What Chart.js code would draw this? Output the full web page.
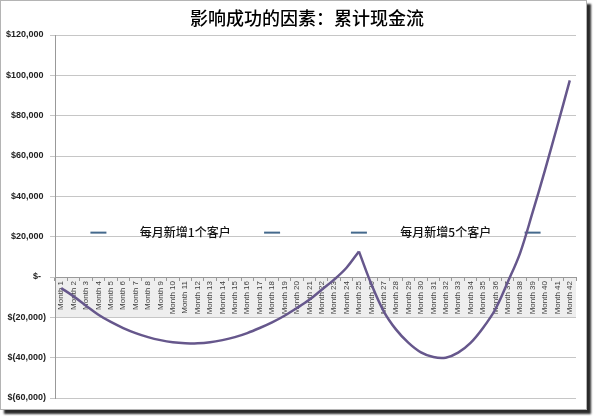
<!DOCTYPE html>
<html lang="zh-CN">
<head>
<meta charset="UTF-8">
<title>影响成功的因素：累计现金流</title>
<script src="https://cdn.jsdelivr.net/npm/chart.js"></script>
<style>
    body { margin: 0; background: #fff; }
    #frame {
        position: absolute; left: 0; top: 0;
        width: 585px; height: 408px;
        border: 1px solid #b4b4b4;
        box-shadow: 4px 4px 2px #2a2a2a;
        background: #fff;
    }
</style>
</head>
<body>
<div id="frame"><canvas id="cashChart"></canvas></div>
<script>
    // categories
    const months = [
        'Month 1', 'Month 2', 'Month 3', 'Month 4', 'Month 5', 'Month 6', 'Month 7',
        'Month 8', 'Month 9', 'Month 10', 'Month 11', 'Month 12', 'Month 13', 'Month 14',
        'Month 15', 'Month 16', 'Month 17', 'Month 18', 'Month 19', 'Month 20', 'Month 21',
        'Month 22', 'Month 23', 'Month 24', 'Month 25', 'Month 26', 'Month 27', 'Month 28',
        'Month 29', 'Month 30', 'Month 31', 'Month 32', 'Month 33', 'Month 34', 'Month 35',
        'Month 36', 'Month 37', 'Month 38', 'Month 39', 'Month 40', 'Month 41', 'Month 42'
    ];
    // cumulative cash flow
    const cumulativeCash = [
        -5500, -9600, -14200, -18700, -22300, -25300, -27800,
        -29800, -31300, -32300, -32800, -32900, -32400, -31300,
        -29800, -27800, -25300, -22500, -19200, -15400, -11300,
        -6300, -1300, 4600, 12700, -3500, -17000, -26100,
        -32700, -37400, -39700, -40000, -37500, -32700, -25300,
        -16000, -2500, 12000, 32000, 53000, 75000, 97500
    ];
    // month where the plan switches (sharp corner in the line)
    const switchMonth = 'Month 25';
    // y axis range
    const yMin = -60000;
    const yMax = 120000;
    const yStep = 20000;
    // the two annotations with their dash markers
    const noteLabels = ['每月新增1个客户', '每月新增5个客户'];
    const noteStart = ['Month 4', 'Month 25'];
    const noteEnd = ['Month 18', 'Month 39'];
    const noteLevel = 22000;

    const markerPoints = [];
    noteStart.forEach((m, i) => {
        markerPoints.push({ x: m, y: noteLevel });
        markerPoints.push({ x: noteEnd[i], y: noteLevel });
    });

    // two smoothed pieces meeting at the switch month
    const cut = months.indexOf(switchMonth);
    const phase1 = cumulativeCash.map((v, i) => i <= cut ? v : null);
    const phase2 = cumulativeCash.map((v, i) => i >= cut ? v : null);

    function money(v) {
        if (v === 0) return '$-  ';
        const s = Math.abs(v).toLocaleString('en-US');
        return v < 0 ? '$(' + s + ')' : '$' + s + ' ';
    }

    // light band behind the month labels (0 to -20,000)
    const labelBand = {
        id: 'labelBand',
        beforeDraw(chart) {
            const { ctx, chartArea, scales } = chart;
            const y0 = scales.y.getPixelForValue(0);
            const y1 = scales.y.getPixelForValue(-20000);
            ctx.save();
            ctx.fillStyle = '#eeeeee';
            ctx.fillRect(chartArea.left, y0, chartArea.right - chartArea.left, y1 - y0);
            ctx.restore();
        }
    };

    // title and annotation texts
    const texts = {
        id: 'texts',
        afterDraw(chart) {
            const { ctx, scales } = chart;
            ctx.save();
            ctx.fillStyle = '#000';
            ctx.textAlign = 'center';
            ctx.textBaseline = 'middle';
            ctx.font = '500 18px "Noto Sans CJK SC"';
            ctx.fillText('影响成功的因素：累计现金流', 306, 17);
            ctx.font = '500 12px "Noto Sans CJK SC"';
            ctx.fillStyle = '#111';
            const y = scales.y.getPixelForValue(noteLevel);
            noteLabels.forEach((t, i) => {
                const xa = scales.x.getPixelForValue(months.indexOf(noteStart[i]));
                const xb = scales.x.getPixelForValue(months.indexOf(noteEnd[i]));
                ctx.fillText(t, (xa + xb) / 2, y);
            });
            ctx.restore();
        }
    };

    const lineStyle = {
        borderColor: '#66578c',
        borderWidth: 2.5,
        pointRadius: 0,
        tension: 0.35,
        spanGaps: false,
        fill: false
    };

    const ctx = document.getElementById('cashChart').getContext('2d');
    new Chart(ctx, {
        type: 'line',
        data: {
            labels: months,
            datasets: [
                Object.assign({ label: '累计现金流', data: phase1 }, lineStyle),
                Object.assign({ label: '累计现金流 ', data: phase2 }, lineStyle),
                {
                    label: 'markers',
                    data: markerPoints,
                    showLine: false,
                    pointStyle: 'line',
                    pointRadius: 8,
                    pointBorderWidth: 2,
                    pointBorderColor: '#44698c',
                    borderColor: '#44698c'
                }
            ]
        },
        options: {
            responsive: true,
            maintainAspectRatio: false,
            animation: false,
            layout: { padding: { top: 34, right: 7, bottom: 11, left: 0 } },
            plugins: {
                legend: { display: false },
                tooltip: { enabled: false },
                title: { display: false }
            },
            scales: {
                x: {
                    type: 'category',
                    offset: true,
                    position: { y: 0 },
                    grid: { drawOnChartArea: false, offset: true, tickLength: 3, color: '#999' },
                    border: { color: '#999' },
                    ticks: {
                        autoSkip: false,
                        minRotation: 90,
                        maxRotation: 90,
                        padding: 1,
                        color: '#404040',
                        font: { family: 'Liberation Sans', size: 8 }
                    }
                },
                y: {
                    min: yMin,
                    max: yMax,
                    grid: { color: '#c6c6c6', tickLength: 5 },
                    border: { color: '#999' },
                    ticks: {
                        stepSize: yStep,
                        padding: 4,
                        color: '#222',
                        font: { family: 'Liberation Sans', size: 9, weight: 'bold' },
                        callback: v => money(v)
                    },
                    afterFit: s => { s.width = 54; }
                }
            }
        },
        plugins: [labelBand, texts]
    });
</script>
</body>
</html>
